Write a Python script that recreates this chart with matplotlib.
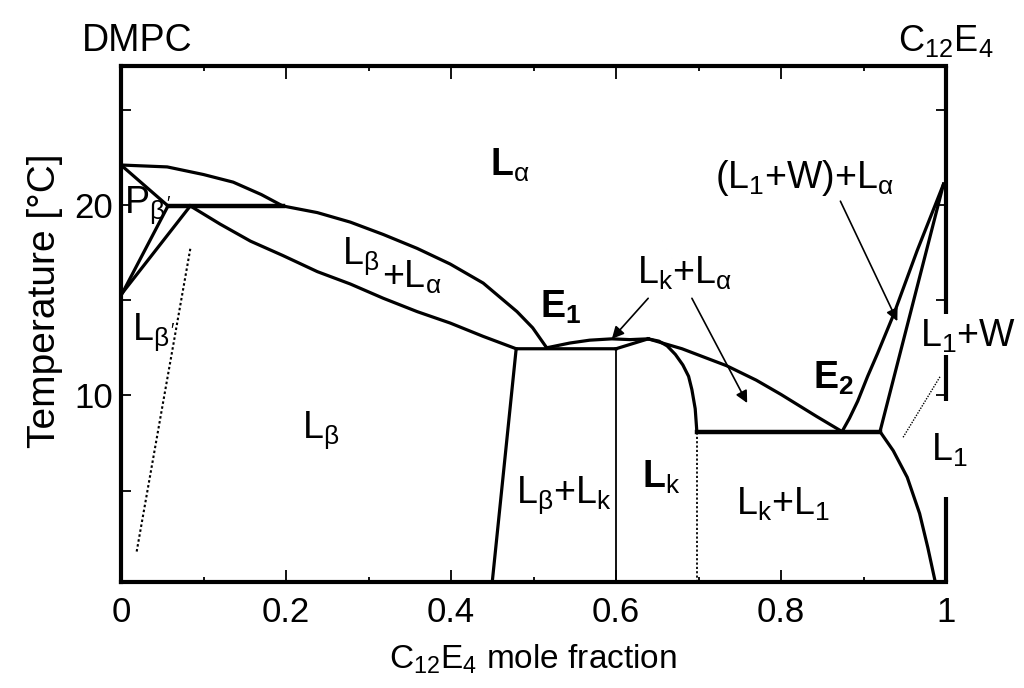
import matplotlib
matplotlib.use('Agg')
from matplotlib import pyplot as plt
import numpy as np

plt.rcParams['font.family'] = 'Liberation Sans'
plt.rcParams['mathtext.fontset'] = 'custom'
plt.rcParams['mathtext.rm'] = 'Liberation Sans'
plt.rcParams['mathtext.it'] = 'Liberation Sans'
plt.rcParams['mathtext.bf'] = 'Liberation Sans:bold'

# phase boundaries (C12E4 mole fraction, temperature in degC)
liq_x = [0.0, 0.056, 0.10, 0.136, 0.17, 0.196, 0.238, 0.278, 0.318, 0.359,
         0.399, 0.439, 0.48, 0.499, 0.516]
liq_y = [22.1, 22.0, 21.6, 21.2, 20.55, 19.95, 19.6, 19.1, 18.45, 17.72,
         16.9, 15.9, 14.4, 13.55, 12.5]

sol_x = [0.084, 0.12, 0.157, 0.196, 0.238, 0.278, 0.318, 0.359, 0.399, 0.439, 0.479]
sol_y = [19.95, 19.0, 18.1, 17.35, 16.5, 15.85, 15.1, 14.4, 13.8, 13.1, 12.45]

pb_x = [0.0, 0.057, 0.002]          # P beta' upper wedge
pb_y = [22.1, 19.95, 15.4]
lb_x = [0.084, 0.002]               # L beta' boundary
lb_y = [19.95, 15.4]
tie20_x = [0.057, 0.196]            # tie line at 20 degC
tie20_y = [19.95, 19.95]
dot1_x = [0.019, 0.084]
dot1_y = [1.8, 17.7]

box_x = [0.45, 0.479, 0.60]         # L beta + Lk box
box_y = [0.2, 12.45, 12.45]
box_r_x = [0.60, 0.60]
box_r_y = [0.2, 12.45]
box_top_x = [0.60, 0.639]
box_top_y = [12.45, 12.97]

dome_x = [0.516, 0.544, 0.568, 0.595, 0.617, 0.639]
dome_y = [12.5, 12.75, 12.9, 12.97, 12.93, 12.97]

desc_x = [0.639, 0.68, 0.734, 0.77, 0.80, 0.843, 0.874]
desc_y = [12.97, 12.45, 11.56, 10.8, 10.05, 8.9, 8.1]

lk_x = [0.639, 0.652, 0.662, 0.672, 0.681, 0.688, 0.692, 0.696, 0.698]
lk_y = [12.97, 12.85, 12.6, 12.15, 11.6, 11.0, 10.3, 9.3, 8.1]
lk_dot_x = [0.698, 0.698]
lk_dot_y = [0.2, 8.1]

tie8_x = [0.698, 0.92]
tie8_y = [8.1, 8.1]

e2_x = [0.874, 0.883, 0.893, 0.905, 0.917, 0.937, 0.965, 0.997]
e2_y = [8.1, 8.8, 9.7, 11.0, 12.2, 14.3, 17.6, 21.1]

w_x = [0.92, 0.997]
w_y = [8.1, 21.1]

l1_x = [0.92, 0.936, 0.953, 0.968, 0.978, 0.987]
l1_y = [8.1, 7.1, 5.7, 3.8, 2.0, 0.2]

dot2_x = [0.948, 0.993]
dot2_y = [7.8, 11.0]

x_ticks = [0, 0.2, 0.4, 0.6, 0.8, 1.0]
x_labels = ['0', '0.2', '0.4', '0.6', '0.8', '1']
y_ticks = [5, 10, 15, 20, 25]
y_labels = ['', '10', '', '20', '']

# right frame pieces (gaps for the labels)
rspine = [(14.3, 27.3), (9.7, 12.1), (0.2, 4.65)]

fig, ax = plt.subplots(figsize=(10.24, 6.88), dpi=100)
fig.subplots_adjust(left=121/1024, right=946/1024, bottom=106/688, top=622/688)
ax.set_xlim(0, 1)
ax.set_ylim(0.2, 27.3)

lw = 2.3
for xs, ys in [(liq_x, liq_y), (sol_x, sol_y), (pb_x, pb_y), (lb_x, lb_y),
               (box_x, box_y), (box_top_x, box_top_y), (dome_x, dome_y),
               (desc_x, desc_y), (lk_x, lk_y), (e2_x, e2_y), (w_x, w_y),
               (l1_x, l1_y)]:
    ax.plot(xs, ys, color='k', lw=lw, solid_joinstyle='round')
ax.plot(tie20_x, tie20_y, color='k', lw=3.2)
ax.plot(tie8_x, tie8_y, color='k', lw=3.2)
ax.plot(box_r_x, box_r_y, color='k', lw=1.3)
ax.plot(dot1_x, dot1_y, color='k', lw=1.5, ls=(0, (1.2, 1.2)))
ax.plot(lk_dot_x, lk_dot_y, color='k', lw=1.3, ls=(0, (1.2, 1.2)))
ax.plot(dot2_x, dot2_y, color='k', lw=1.0, ls=(0, (1, 1)))

arrow = dict(arrowstyle='-|>', lw=1.2, color='k', mutation_scale=18, shrinkA=0, shrinkB=0)
ax.annotate('', xy=(0.595, 12.97), xytext=(0.639, 15.1), arrowprops=arrow)
ax.annotate('', xy=(0.759, 9.6), xytext=(0.692, 15.1), arrowprops=arrow)
ax.annotate('', xy=(0.941, 13.9), xytext=(0.872, 20.2), arrowprops=arrow)

fs = 27
def label(x, y, s, **kw):
    ax.text(x, y, s, fontsize=kw.pop('fontsize', fs), ha=kw.pop('ha', 'left'),
            va=kw.pop('va', 'center'), **kw)

label(0.004, 20.0, r"P$_{\beta'}$")
label(0.013, 13.3, r"L$_{\beta'}$")
label(0.22, 8.15, r"L$_{\beta}$")
label(0.268, 17.3, r"L$_{\beta}$")
label(0.316, 16.2, r"+L$_{\alpha}$")
label(0.447, 22.1, r"$\mathbf{L}$$_{\alpha}$")
label(0.508, 14.6, r"$\mathbf{E}_{\mathbf{1}}$")
label(0.625, 16.4, r"L$_{k}$+L$_{\alpha}$")
label(0.479, 4.75, r"L$_{\beta}$+L$_{k}$")
label(0.631, 5.7, r"$\mathbf{L}_{k}$")
label(0.745, 4.3, r"L$_{k}$+L$_{1}$")
label(0.839, 10.9, r"$\mathbf{E}_{\mathbf{2}}$")
label(0.72, 21.4, r"(L$_{1}$+W)+L$_{\alpha}$")
label(0.969, 13.1, r"L$_{1}$+W")
label(0.982, 7.1, r"L$_{1}$")

ax.text(0.02, 28.6, 'DMPC', fontsize=fs, ha='center', va='center')
ax.text(1.0, 28.6, r'C$_{12}$E$_{4}$', fontsize=26, ha='center', va='center')

ax.set_xticks(x_ticks)
ax.set_xticklabels(x_labels)
ax.set_xticks(np.arange(0.1, 1.0, 0.2), minor=True)
ax.set_yticks(y_ticks)
ax.set_yticklabels(y_labels)
ax.tick_params(axis='both', which='major', direction='in', labelsize=25, width=1.3)
ax.tick_params(axis='x', which='major', length=9, top=True, pad=10)
ax.tick_params(axis='x', which='minor', direction='in', length=3.5, width=1.3, top=True)
ax.tick_params(axis='y', which='major', length=7, right=True, pad=6)
ax.yaxis.get_major_ticks()[0].tick2line.set_visible(False)

for side in ['left', 'bottom', 'top']:
    ax.spines[side].set_linewidth(3)
ax.spines['right'].set_visible(False)
for y0, y1 in rspine:
    ax.plot([1, 1], [y0, y1], color='k', lw=3, clip_on=False, solid_capstyle='butt')

ax.set_xlabel(r'C$_{12}$E$_{4}$ mole fraction', fontsize=24, labelpad=10)
ax.set_ylabel('Temperature [°C]', fontsize=28)
ax.yaxis.set_label_coords(-0.07, 0.545)

plt.savefig('out.png', dpi=100)
